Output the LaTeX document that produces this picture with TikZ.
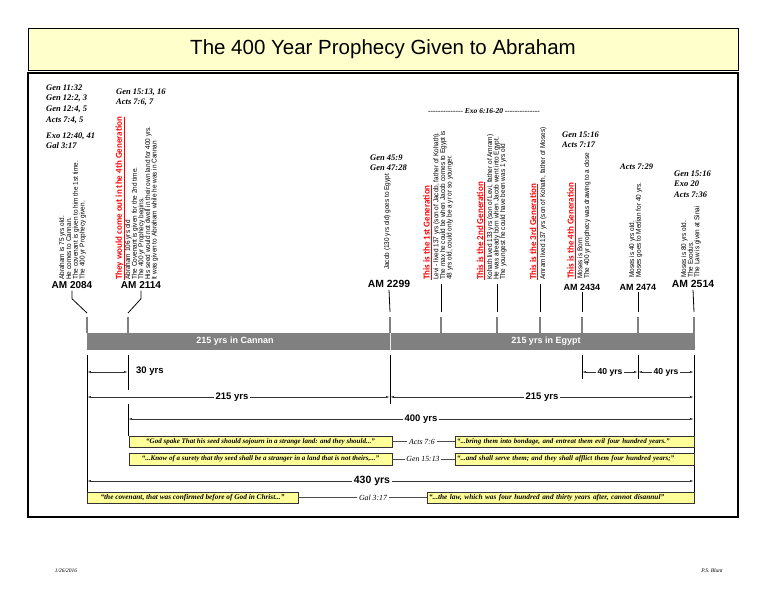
\documentclass[tikz,border=0pt]{standalone}
\usepackage{fontspec}
\setmainfont{Liberation Serif}
\setsansfont{Liberation Sans}
\newfontfamily\narrowf[FakeStretch=0.92]{Liberation Sans}
\newfontfamily\carl{Carlito}
\newfontfamily\plainserif[Ligatures=TeXOff]{Liberation Serif}
\usetikzlibrary{arrows.meta,shadows}
\definecolor{titleyellow}{HTML}{FFFFCC}
\definecolor{quoteyellow}{HTML}{FFFF99}
\definecolor{bargray}{HTML}{808080}
\begin{document}
\begin{tikzpicture}[x=1pt,y=-1pt,
  vt/.style={rotate=90, anchor=base west, inner sep=0, font=\narrowf\fontsize{7}{8}\selectfont},
  vr/.style={rotate=90, anchor=base west, inner sep=0, text=red, font=\carl\bfseries\fontsize{9}{10}\selectfont},
  refs/.style={anchor=north west, inner sep=0, align=left, font=\bfseries\itshape\fontsize{8.5}{10.6}\selectfont},
  am/.style={inner sep=0, font=\sffamily\bfseries\fontsize{10}{12}\selectfont},
  lk/.style={line width=0.8pt, black},
  tk/.style={line width=1.2pt, bargray},
  ext/.style={line width=0.8pt, black},
  dim/.style={line width=0.5pt, black!80, {Latex[length=3.5pt,width=2.2pt]}-{Latex[length=3.5pt,width=2.2pt]}},
  dimr/.style={line width=0.5pt, black!80, -{Latex[length=3.5pt,width=2.2pt]}},
  diml/.style={line width=0.5pt, black!80, {Latex[length=3.5pt,width=2.2pt]}-},
  dl/.style={fill=white, inner sep=1.5pt, font=\sffamily\bfseries\fontsize{9.5}{11}\selectfont},
  qbox/.style={draw=black!80, line width=0.6pt, fill=quoteyellow, inner ysep=0, inner xsep=2pt,
     font=\bfseries\itshape\fontsize{7}{8}\selectfont,
     drop shadow={shadow xshift=1pt, shadow yshift=-1pt, fill=black!75, opacity=1}},
  qref/.style={inner sep=1.5pt, font=\itshape\fontsize{7.8}{9}\selectfont},
  barlab/.style={text=white, inner sep=0, font=\sffamily\bfseries\fontsize{9}{11}\selectfont}
]
\useasboundingbox (0,0) rectangle (768,594);
\fill[white] (0,0) rectangle (768,594);

% frames
\draw[fill=titleyellow, line width=0.8pt] (28,28) rectangle (738,70);
\node[inner sep=0, font=\sffamily\fontsize{20.5}{24}\selectfont] (title) at (383,49.5) {The 400 Year Prophecy Given to Abraham};
\draw[line width=1.2pt] (28,73) rectangle (738,517);
\draw[line width=2.5pt] (28,517) -- (738,517);

% scripture references (top)
\node[refs] (r1) at (46,84.5) {Gen 11:32\\Gen 12:2, 3\\Gen 12:4, 5\\Acts 7:4, 5};
\node[refs] (r2) at (46,132.5) {Exo 12:40, 41\\Gal 3:17};
\node[refs] (r3) at (116,88.5) {Gen 15:13, 16\\Acts 7:6, 7};
\node[refs] (r4) at (370,154.5) {Gen 45:9\\Gen 47:28};
\node[refs] (r5) at (562,131.5) {Gen 15:16\\Acts 7:17};
\node[refs] (r6) at (620,163.5) {Acts 7:29};
\node[refs] (r7) at (674,170.5) {Gen 15:16\\Exo 20\\Acts 7:36};
\node[inner sep=0, font=\plainserif\bfseries\itshape\fontsize{7.5}{9}\selectfont] (exo) at (484,111) {-------------- Exo 6:16-20 --------------};

% rotated text blocks
\node[vt] (a1) at (64.2,280) {Abraham is 75 yrs old.};
\node[vt] (a2) at (71,280) {He comes to Cannan.};
\node[vt] (a3) at (77.8,280) {The covenant is given to him the 1st time.};
\node[vt] (a4) at (84.6,280) {The 400 yr Prophecy given.};

\node[vr] (b0) at (121.8,280) {\underline{They would come out in the 4th Generation}};
\node[vt] (b1) at (130.2,280) {Abraham 106 yrs old};
\node[vt] (b2) at (136.8,280) {The Covenant is given for the 2nd time.};
\node[vt] (b3) at (143.4,280) {The 400 yr Prophecy begins.};
\node[vt] (b4) at (150,280) {His seed would not dwell in their own land for 400 yrs.};
\node[vt] (b5) at (156.6,280) {It was given to Abraham while he was in Cannan};

\node[vt] (c1) at (389.2,270) {Jacob (130 yrs old) goes to Egypt};

\node[vr] (d0) at (429.6,280) {\underline{This is the 1st Generation}};
\node[vt] (d1) at (438.4,280) {Levi - lived 137 yrs (son of Jacob, father of Kohath).};
\node[vt] (d2) at (445,280) {The max he could be when Jacob comes to Egypt is};
\node[vt] (d3) at (451.6,280) {48 yrs old, could only be a yr or so younger.};

\node[vr] (e0) at (483.2,280) {\underline{This is the 2nd Generation}};
\node[vt] (e1) at (492,280) {Kohath lived 133 yrs (son of Levi, father of Amram)};
\node[vt] (e2) at (498.6,280) {He was already born when Jacob went into Egypt.};
\node[vt] (e3) at (505.2,280) {The youngest he could have been was 1 yrs old};

\node[vr] (f0) at (536.2,280) {\underline{This is the 3rd Generation}};
\node[vt] (f1) at (545,280) {Amram lived 137 yrs (son of Kohath, father of Moses)};

\node[vr] (g0) at (573.6,279) {\underline{This is the 4th Generation}};
\node[vt] (g1) at (582.4,279) {Moses is Born};
\node[vt] (g2) at (589,279) {The 400 yr prophecy was drawing to a close};

\node[vt] (h1) at (634.2,278) {Moses is 40 yrs old.};
\node[vt] (h2) at (640.8,278) {Moses goes to Median for 40 yrs.};

\node[vt] (i1) at (686.2,278) {Moses is 80 yrs old.};
\node[vt] (i2) at (692.8,278) {The Exodus.};
\node[vt] (i3) at (699.4,278) {The Law is given at Sinai};

% AM labels
\node[am] (am1) at (72,285) {AM 2084};
\node[am] (am2) at (141,285) {AM 2114};
\node[am, font=\sffamily\bfseries\fontsize{10.4}{12}\selectfont] (am3) at (389,284) {AM 2299};
\node[am, font=\sffamily\bfseries\fontsize{9}{11}\selectfont] (am4) at (582,287) {AM 2434};
\node[am, font=\sffamily\bfseries\fontsize{9}{11}\selectfont] (am5) at (638,287) {AM 2474};
\node[am, font=\sffamily\bfseries\fontsize{10.4}{12}\selectfont] (am6) at (693,284) {AM 2514};

% tick coordinates
\coordinate (k1) at (87,313);
\coordinate (k2) at (128,313);
\coordinate (k3) at (390,312);
\coordinate (k4) at (441,312);
\coordinate (k5) at (497,312);
\coordinate (k6) at (540,312);
\coordinate (k7) at (582,312);
\coordinate (k8) at (638,312);
\coordinate (k9) at (694,312);
\coordinate (s4) at (441,284);
\coordinate (s5) at (497,284);
\coordinate (s6) at (540,284);

\draw[lk] (am1.south) ++(0,2) -- ++(0,8) -- (k1);
\draw[lk] (am2.south) ++(0,2) -- ++(0,8) -- (k2);
\draw[lk] (am3.south) ++(0,2) -- (k3);
\draw[lk] (s4) -- (k4);
\draw[lk] (s5) -- (k5);
\draw[lk] (s6) -- (k6);
\draw[lk] (am4.south) ++(0,2) -- (k7);
\draw[lk] (am5.south) ++(0,2) -- (k8);
\draw[lk] (am6.south) ++(0,2) -- (k9);

% ticks above the bar
\foreach \x in {87,128,390,441,497,540,582,638,694}
  \draw[tk] (\x,317) -- (\x,333);

% the bar
\fill[bargray] (87,333) rectangle (695,350);
\draw[white!85!bargray, line width=0.6pt] (390,333) -- (390,350);
\node[barlab] (bar1) at (235,341.5) {215 yrs in Cannan};
\node[barlab] (bar2) at (546,341.5) {215 yrs in Egypt};

% extension lines
\draw[ext] (87,355) -- (87,492);
\draw[ext] (128,355) -- (128,390);
\draw[ext] (128,404) -- (128,436);
\draw[ext] (390,355) -- (390,404);
\draw[ext] (582,355) -- (582,379);
\draw[ext] (638,355) -- (638,379);
\draw[ext] (694,355) -- (694,492);

% dimensions
\draw[dim] (87.4,372) -- (127.6,372);
\node[anchor=west, inner sep=0, font=\sffamily\bfseries\fontsize{9.5}{11}\selectfont] (d30) at (136,371) {30 yrs};

\node[dl] (d215a) at (232,397) {215 yrs};
\draw[diml] (87.4,397) -- (d215a);
\draw[dimr] (d215a) -- (389.6,397);
\node[dl] (d215b) at (542,397) {215 yrs};
\draw[diml] (390.4,397) -- (d215b);
\draw[dimr] (d215b) -- (693.6,397);

\node[dl, font=\sffamily\bfseries\fontsize{8.6}{10}\selectfont, inner xsep=1pt] (d40a) at (610,372) {40 yrs};
\draw[diml] (582.4,372) -- (d40a);
\draw[dimr] (d40a) -- (637.6,372);
\node[dl, font=\sffamily\bfseries\fontsize{8.6}{10}\selectfont, inner xsep=1pt] (d40b) at (666,372) {40 yrs};
\draw[diml] (638.4,372) -- (d40b);
\draw[dimr] (d40b) -- (693.6,372);

\node[dl] (d400) at (421,419) {400 yrs};
\draw[diml] (128.4,419) -- (d400);
\draw[dimr] (d400) -- (693.6,419);

\node[dl, font=\sffamily\bfseries\fontsize{10.5}{12}\selectfont] (d430) at (372,481) {430 yrs};
\draw[diml] (87.4,481) -- (d430);
\draw[dimr] (d430) -- (693.6,481);

% quote boxes
\node[qbox, minimum width=263pt, minimum height=11pt] (qa) at (260.5,441.5) {``God spake That his seed should sojourn in a strange land: and they should...''};
\node[qbox, text width=235pt, minimum height=11pt, align=left] (qb) at (574.5,441.5) {``...bring them into bondage, and entreat them evil four hundred years.''};
\node[qref] (ra) at (422,441.5) {Acts 7:6};
\draw[line width=0.5pt, black!70] (qa) -- (ra) -- (qb);

\node[qbox, minimum width=263pt, minimum height=12pt] (qc) at (260.5,459) {``...Know of a surety that thy seed shall be a stranger in a land that is not theirs,...''};
\node[qbox, text width=235pt, minimum height=12pt, align=left] (qd) at (574.5,459) {``...and shall serve them; and they shall afflict them four hundred years;''};
\node[qref] (rc) at (423,459) {Gen 15:13};
\draw[line width=0.5pt, black!70] (qc) -- (rc) -- (qd);

\node[qbox, minimum width=211pt, minimum height=11pt, font=\bfseries\itshape\fontsize{7.3}{8}\selectfont] (qe) at (192.5,497.5) {``the covenant, that was confirmed before of God in Christ...''};
\node[qbox, text width=263pt, minimum height=11pt, align=left, font=\bfseries\itshape\fontsize{7.3}{8}\selectfont] (qf) at (560.5,497.5) {``...the law, which was four hundred and thirty years after, cannot disannul''};
\node[qref] (re) at (373,497.5) {Gal 3:17};
\draw[line width=0.5pt, black!70] (qe) -- (re) -- (qf);

% footer
\node[inner sep=0, font=\itshape\fontsize{5.5}{7}\selectfont] (date) at (66,571) {1/26/2016};
\node[inner sep=0, font=\itshape\fontsize{5.5}{7}\selectfont] (auth) at (712,571) {P.S. Blunt};
\end{tikzpicture}
\end{document}
